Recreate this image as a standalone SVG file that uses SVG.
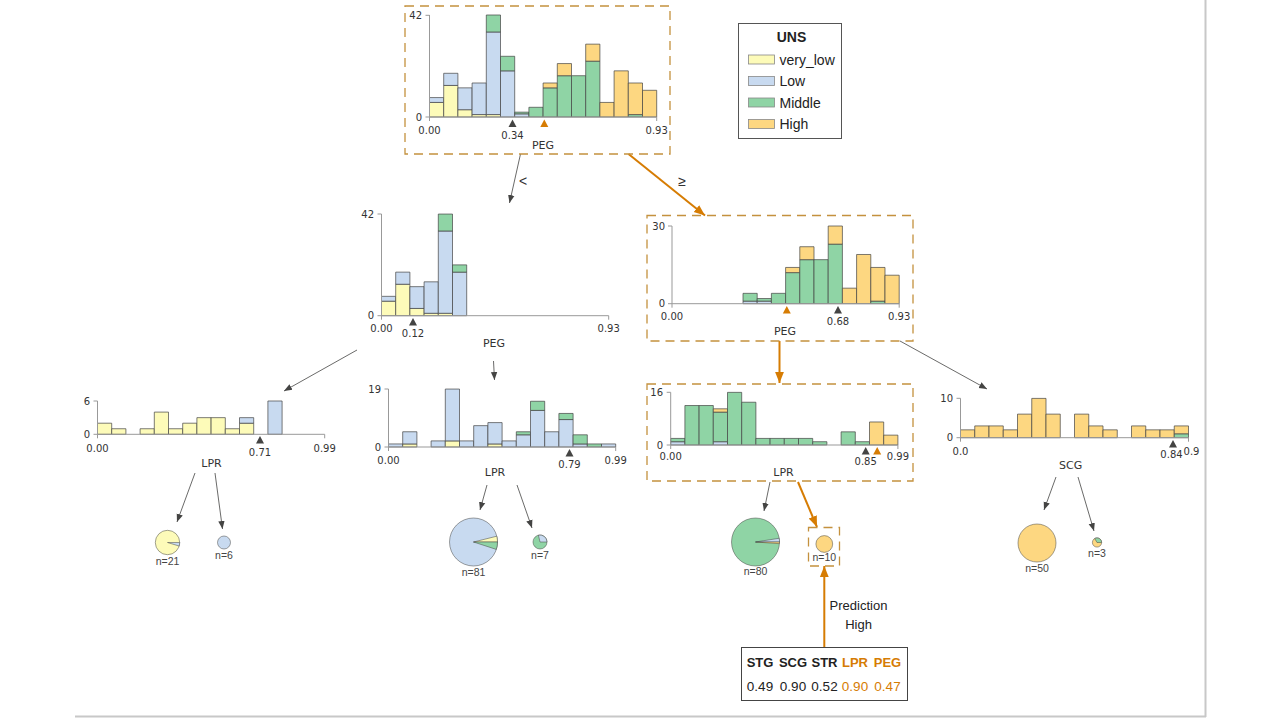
<svg xmlns="http://www.w3.org/2000/svg" width="1280" height="720" viewBox="0 0 1280 720">
<defs>
<style>
.Y{fill:#fdfbb9}.B{fill:#c8daf0}.G{fill:#8fd4a5}.O{fill:#fdd781}
.h rect{stroke:#444443;stroke-width:0.7;vector-effect:non-scaling-stroke}
.ax{stroke:#999;stroke-width:1;fill:none}
.tk{font-family:"DejaVu Sans",sans-serif;font-size:10px;fill:#333;text-anchor:middle}
.yl{font-family:"DejaVu Sans",sans-serif;font-size:10px;fill:#333;text-anchor:end}
.al{font-family:"DejaVu Sans",sans-serif;font-size:11px;fill:#333;text-anchor:middle}
.tb{fill:#444443}.to{fill:#D67C03}
.box{fill:none;stroke:#c4913e;stroke-width:1.3;stroke-dasharray:9 6}
.pl{font-family:"Liberation Sans",Arial,sans-serif;font-size:10.5px;fill:#444443;text-anchor:middle}
.pie{stroke:#444443;stroke-width:0.5}
.cg{stroke:#444443;stroke-width:0.8;fill:none}
.co{stroke:#D67C03;stroke-width:2;fill:none}
.lg{font-family:"Liberation Sans",Arial,sans-serif;font-size:14px;fill:#222}
.hd{font-family:"Liberation Sans",Arial,sans-serif;font-size:13px;font-weight:bold;text-anchor:middle}
.vl{font-family:"Liberation Sans",Arial,sans-serif;font-size:13.5px;text-anchor:middle}
.el{font-family:"Liberation Sans",Arial,sans-serif;font-size:14px;fill:#333;text-anchor:middle}
</style>
<marker id="ag" viewBox="0 0 10 10" refX="10" refY="5" markerWidth="8" markerHeight="8" markerUnits="userSpaceOnUse" orient="auto"><path d="M0,1 L10,5 L0,9 z" fill="#444443"/></marker>
<marker id="ao" viewBox="0 0 10 10" refX="10" refY="5" markerWidth="11" markerHeight="11" markerUnits="userSpaceOnUse" orient="auto"><path d="M0,1 L10,5 L0,9 z" fill="#D67C03"/></marker>
</defs>
<rect width="1280" height="720" fill="#fff"/>
<line x1="1205.5" y1="0" x2="1205.5" y2="717" stroke="#c8c8c8" stroke-width="2"/>
<line x1="75" y1="716.5" x2="1206" y2="716.5" stroke="#c8c8c8" stroke-width="2"/>

<g id="connectors">
<line class="cg" x1="520.5" y1="154" x2="509.5" y2="203" marker-end="url(#ag)"/>
<text class="el" x="523" y="186">&lt;</text>
<line class="co" x1="628.5" y1="154" x2="705" y2="215.5" marker-end="url(#ao)"/>
<text class="el" x="682" y="186">≥</text>
<line class="cg" x1="357" y1="350" x2="284" y2="391" marker-end="url(#ag)"/>
<line class="cg" x1="493.5" y1="361" x2="494.5" y2="380" marker-end="url(#ag)"/>
<line class="co" x1="779.5" y1="341" x2="779.5" y2="383" marker-end="url(#ao)"/>
<line class="cg" x1="900" y1="341" x2="987" y2="389" marker-end="url(#ag)"/>
<line class="cg" x1="195" y1="473" x2="177" y2="522" marker-end="url(#ag)"/>
<line class="cg" x1="215" y1="473" x2="222.5" y2="529" marker-end="url(#ag)"/>
<line class="cg" x1="487" y1="485" x2="480" y2="510" marker-end="url(#ag)"/>
<line class="cg" x1="517" y1="485" x2="532" y2="528" marker-end="url(#ag)"/>
<line class="cg" x1="770" y1="482" x2="764" y2="511" marker-end="url(#ag)"/>
<line class="co" x1="798" y1="482" x2="817" y2="527" marker-end="url(#ao)"/>
<line class="cg" x1="1056" y1="477" x2="1044" y2="510" marker-end="url(#ag)"/>
<line class="cg" x1="1078" y1="477" x2="1094" y2="531" marker-end="url(#ag)"/>
<line class="co" x1="824.3" y1="647" x2="824.3" y2="566" marker-end="url(#ao)"/>
</g>

<g id="node-root">
<rect class="box" x="405" y="6" width="265" height="148"/>
<g class="h" transform="translate(429.5,117) scale(14.2,-2.4286)">
<rect class="Y" x="0" y="0" width="1" height="6"/><rect class="B" x="0" y="6" width="1" height="2"/>
<rect class="Y" x="1" y="0" width="1" height="13"/><rect class="B" x="1" y="13" width="1" height="5"/>
<rect class="Y" x="2" y="0" width="1" height="3"/><rect class="B" x="2" y="3" width="1" height="9"/>
<rect class="Y" x="3" y="0" width="1" height="1"/><rect class="B" x="3" y="1" width="1" height="13"/>
<rect class="Y" x="4" y="0" width="1" height="1"/><rect class="B" x="4" y="1" width="1" height="34"/><rect class="G" x="4" y="35" width="1" height="7"/>
<rect class="B" x="5" y="0" width="1" height="19"/><rect class="G" x="5" y="19" width="1" height="6"/>
<rect class="B" x="6" y="0" width="1" height="1.3"/><rect class="G" x="6" y="1.3" width="1" height="0.7"/>
<rect class="G" x="7" y="0" width="1" height="4"/>
<rect class="G" x="8" y="0" width="1" height="12"/><rect class="O" x="8" y="12" width="1" height="2"/>
<rect class="G" x="9" y="0" width="1" height="17"/><rect class="O" x="9" y="17" width="1" height="5"/>
<rect class="G" x="10" y="0" width="1" height="17"/>
<rect class="G" x="11" y="0" width="1" height="23"/><rect class="O" x="11" y="23" width="1" height="7"/>
<rect class="O" x="12" y="0" width="1" height="6"/>
<rect class="O" x="13" y="0" width="1" height="19"/>
<rect class="G" x="14" y="0" width="1" height="1"/><rect class="O" x="14" y="1" width="1" height="13"/>
<rect class="O" x="15" y="0" width="1" height="11"/>
</g>
<path class="ax" d="M429.5,15 V117 M425.5,15.3 H429.5 M425.5,117 H429.5 M429.5,117 H656.7 M429.5,117 V121 M656.7,117 V121"/>
<text class="yl" x="422" y="19">42</text><text class="yl" x="422" y="120.5">0</text>
<text class="tk" x="429.5" y="133.5">0.00</text><text class="tk" x="656.7" y="133.5">0.93</text>
<path class="tb" d="M512.5,119.5 L516.5,127 L508.5,127 Z"/><path class="to" d="M544.3,119.5 L548.3,127 L540.3,127 Z"/>
<text class="tk" x="512.5" y="139">0.34</text>
<text class="al" x="543" y="149">PEG</text>
</g>

<g id="legend">
<rect x="738.5" y="23.5" width="103" height="115" fill="#fff" stroke="#555" stroke-width="1"/>
<text x="791.5" y="42" font-family="Liberation Sans, Arial, sans-serif" font-size="14" font-weight="bold" fill="#222" text-anchor="middle">UNS</text>
<rect class="Y" x="748.5" y="55" width="26" height="9" stroke="#888" stroke-width="0.8"/><text class="lg" x="779.5" y="64.5">very_low</text>
<rect class="B" x="748.5" y="76.5" width="26" height="9" stroke="#888" stroke-width="0.8"/><text class="lg" x="779.5" y="86">Low</text>
<rect class="G" x="748.5" y="98" width="26" height="9" stroke="#888" stroke-width="0.8"/><text class="lg" x="779.5" y="107.5">Middle</text>
<rect class="O" x="748.5" y="119.5" width="26" height="9" stroke="#888" stroke-width="0.8"/><text class="lg" x="779.5" y="129">High</text>
</g>

<g id="node-left">
<g class="h" transform="translate(381.5,315.7) scale(14.2,-2.42)">
<rect class="Y" x="0" y="0" width="1" height="6"/><rect class="B" x="0" y="6" width="1" height="2"/>
<rect class="Y" x="1" y="0" width="1" height="13"/><rect class="B" x="1" y="13" width="1" height="5"/>
<rect class="Y" x="2" y="0" width="1" height="3"/><rect class="B" x="2" y="3" width="1" height="9"/>
<rect class="Y" x="3" y="0" width="1" height="1"/><rect class="B" x="3" y="1" width="1" height="13"/>
<rect class="Y" x="4" y="0" width="1" height="1"/><rect class="B" x="4" y="1" width="1" height="34"/><rect class="G" x="4" y="35" width="1" height="7"/>
<rect class="B" x="5" y="0" width="1" height="18"/><rect class="G" x="5" y="18" width="1" height="3"/>
</g>
<path class="ax" d="M381.5,214 V315.7 M377.5,214 H381.5 M377.5,315.7 H381.5 M381.5,315.7 H608.7 M381.5,315.7 V319.7 M608.7,315.7 V319.7"/>
<text class="yl" x="374" y="217.5">42</text><text class="yl" x="374" y="319">0</text>
<text class="tk" x="381.5" y="332">0.00</text><text class="tk" x="608.7" y="332">0.93</text>
<path class="tb" d="M413,318 L417,325.5 L409,325.5 Z"/>
<text class="tk" x="413" y="337">0.12</text>
<text class="al" x="494" y="347">PEG</text>
</g>

<g id="node-right">
<rect class="box" x="647" y="215.5" width="266" height="125.5"/>
<g class="h" transform="translate(672,303.7) scale(14.2,-2.59)">
<rect class="B" x="5" y="0" width="1" height="1"/><rect class="G" x="5" y="1" width="1" height="3"/>
<rect class="B" x="6" y="0" width="1" height="1"/><rect class="G" x="6" y="1" width="1" height="1"/>
<rect class="G" x="7" y="0" width="1" height="4"/>
<rect class="G" x="8" y="0" width="1" height="12"/><rect class="O" x="8" y="12" width="1" height="2"/>
<rect class="G" x="9" y="0" width="1" height="17"/><rect class="O" x="9" y="17" width="1" height="5"/>
<rect class="G" x="10" y="0" width="1" height="17"/>
<rect class="G" x="11" y="0" width="1" height="23"/><rect class="O" x="11" y="23" width="1" height="7"/>
<rect class="O" x="12" y="0" width="1" height="6"/>
<rect class="O" x="13" y="0" width="1" height="19"/>
<rect class="G" x="14" y="0" width="1" height="1"/><rect class="O" x="14" y="1" width="1" height="13"/>
<rect class="O" x="15" y="0" width="1" height="11"/>
</g>
<path class="ax" d="M672,226 V303.7 M668,226 H672 M668,303.7 H672 M672,303.7 H899.2 M672,303.7 V307.7 M899.2,303.7 V307.7"/>
<text class="yl" x="665" y="229.5">30</text><text class="yl" x="665" y="307">0</text>
<text class="tk" x="672" y="320">0.00</text><text class="tk" x="899.2" y="320">0.93</text>
<path class="tb" d="M838,306 L842,313.5 L834,313.5 Z"/><path class="to" d="M786.8,306 L790.8,313.5 L782.8,313.5 Z"/>
<text class="tk" x="838" y="324.5">0.68</text>
<text class="al" x="785" y="335">PEG</text>
</g>

<g id="node-ll">
<g class="h" transform="translate(97.5,434.3) scale(14.2,-5.55)">
<rect class="Y" x="0" y="0" width="1" height="2"/>
<rect class="Y" x="1" y="0" width="1" height="1"/>
<rect class="Y" x="3" y="0" width="1" height="1"/>
<rect class="Y" x="4" y="0" width="1" height="4"/>
<rect class="Y" x="5" y="0" width="1" height="1"/>
<rect class="Y" x="6" y="0" width="1" height="2"/>
<rect class="Y" x="7" y="0" width="1" height="3"/>
<rect class="Y" x="8" y="0" width="1" height="3"/>
<rect class="Y" x="9" y="0" width="1" height="1"/>
<rect class="Y" x="10" y="0" width="1" height="2"/><rect class="B" x="10" y="2" width="1" height="1"/>
<rect class="B" x="12" y="0" width="1" height="6"/>
</g>
<path class="ax" d="M97.5,401 V434.3 M93.5,401 H97.5 M93.5,434.3 H97.5 M97.5,434.3 H324.7 M97.5,434.3 V438.3 M324.7,434.3 V438.3"/>
<text class="yl" x="90" y="404.5">6</text><text class="yl" x="90" y="437.8">0</text>
<text class="tk" x="97.5" y="452">0.00</text><text class="tk" x="324.7" y="452">0.99</text>
<path class="tb" d="M260,436 L264,443.5 L256,443.5 Z"/>
<text class="tk" x="260" y="455.5">0.71</text>
<text class="al" x="211.5" y="467">LPR</text>
</g>

<g id="node-lr">
<g class="h" transform="translate(388.5,447) scale(14.2,-3.05)">
<rect class="B" x="0" y="0" width="1" height="1"/>
<rect class="Y" x="1" y="0" width="1" height="1"/><rect class="B" x="1" y="1" width="1" height="4"/>
<rect class="B" x="3" y="0" width="1" height="2"/>
<rect class="Y" x="4" y="0" width="1" height="2"/><rect class="B" x="4" y="2" width="1" height="17"/>
<rect class="B" x="5" y="0" width="1" height="2"/>
<rect class="B" x="6" y="0" width="1" height="7"/>
<rect class="Y" x="7" y="0" width="1" height="1"/><rect class="B" x="7" y="1" width="1" height="7"/>
<rect class="B" x="8" y="0" width="1" height="2"/>
<rect class="B" x="9" y="0" width="1" height="4"/><rect class="G" x="9" y="4" width="1" height="1"/>
<rect class="B" x="10" y="0" width="1" height="12"/><rect class="G" x="10" y="12" width="1" height="3"/>
<rect class="B" x="11" y="0" width="1" height="5"/>
<rect class="B" x="12" y="0" width="1" height="9"/><rect class="G" x="12" y="9" width="1" height="2"/>
<rect class="B" x="13" y="0" width="1" height="1"/><rect class="G" x="13" y="1" width="1" height="3"/>
<rect class="G" x="14" y="0" width="1" height="1"/>
<rect class="B" x="15" y="0" width="1" height="1"/>
</g>
<path class="ax" d="M388.5,389 V447 M384.5,389 H388.5 M384.5,447 H388.5 M388.5,447 H615.7 M388.5,447 V451 M615.7,447 V451"/>
<text class="yl" x="381" y="392.5">19</text><text class="yl" x="381" y="450.5">0</text>
<text class="tk" x="388.5" y="463.5">0.00</text><text class="tk" x="615.7" y="463.5">0.99</text>
<path class="tb" d="M569.5,449 L573.5,456.5 L565.5,456.5 Z"/>
<text class="tk" x="569.5" y="467.5">0.79</text>
<text class="al" x="495" y="476">LPR</text>
</g>

<g id="node-rl">
<rect class="box" x="647" y="384" width="266" height="97"/>
<g class="h" transform="translate(670.7,445) scale(14.2,-3.29)">
<rect class="B" x="0" y="0" width="1" height="1"/><rect class="G" x="0" y="1" width="1" height="1"/>
<rect class="G" x="1" y="0" width="1" height="12"/>
<rect class="G" x="2" y="0" width="1" height="12"/>
<rect class="B" x="3" y="0" width="1" height="1"/><rect class="G" x="3" y="1" width="1" height="9"/><rect class="O" x="3" y="10" width="1" height="1"/>
<rect class="G" x="4" y="0" width="1" height="16"/>
<rect class="G" x="5" y="0" width="1" height="13"/>
<rect class="G" x="6" y="0" width="1" height="2"/>
<rect class="G" x="7" y="0" width="1" height="2"/>
<rect class="G" x="8" y="0" width="1" height="2"/>
<rect class="G" x="9" y="0" width="1" height="2"/>
<rect class="G" x="10" y="0" width="1" height="1"/>
<rect class="G" x="12" y="0" width="1" height="4"/>
<rect class="G" x="13" y="0" width="1" height="1"/>
<rect class="O" x="14" y="0" width="1" height="7"/>
<rect class="O" x="15" y="0" width="1" height="3"/>
</g>
<path class="ax" d="M670.7,392.3 V445 M666.7,392.3 H670.7 M666.7,445 H670.7 M670.7,445 H897.9 M670.7,445 V449 M897.9,445 V449"/>
<text class="yl" x="663" y="396">16</text><text class="yl" x="663" y="448.5">0</text>
<text class="tk" x="670.7" y="460">0.00</text><text class="tk" x="897.9" y="460">0.99</text>
<path class="tb" d="M865.7,447 L869.7,454.5 L861.7,454.5 Z"/><path class="to" d="M877.2,447 L881.2,454.5 L873.2,454.5 Z"/>
<text class="tk" x="865.7" y="465">0.85</text>
<text class="al" x="783.5" y="476">LPR</text>
</g>

<g id="node-rr">
<g class="h" transform="translate(960.5,437.7) scale(14.25,-3.93)">
<rect class="O" x="0" y="0" width="1" height="2"/>
<rect class="O" x="1" y="0" width="1" height="3"/>
<rect class="O" x="2" y="0" width="1" height="3"/>
<rect class="O" x="3" y="0" width="1" height="2"/>
<rect class="O" x="4" y="0" width="1" height="6"/>
<rect class="O" x="5" y="0" width="1" height="10"/>
<rect class="O" x="6" y="0" width="1" height="6"/>
<rect class="O" x="8" y="0" width="1" height="6"/>
<rect class="O" x="9" y="0" width="1" height="3"/>
<rect class="O" x="10" y="0" width="1" height="2"/>
<rect class="O" x="12" y="0" width="1" height="3"/>
<rect class="O" x="13" y="0" width="1" height="2"/>
<rect class="O" x="14" y="0" width="1" height="2"/>
<rect class="G" x="15" y="0" width="1" height="1"/><rect class="O" x="15" y="1" width="1" height="2"/>
</g>
<path class="ax" d="M960.5,398.3 V437.7 M956.5,398.3 H960.5 M956.5,437.7 H960.5 M960.5,437.7 H1188.5 M960.5,437.7 V441.7 M1188.5,437.7 V441.7"/>
<text class="yl" x="953" y="402">10</text><text class="yl" x="953" y="441">0</text>
<text class="tk" x="960.5" y="454.5">0.0</text><text class="tk" x="1191.5" y="454.5">0.9</text>
<path class="tb" d="M1173,440 L1177,447.5 L1169,447.5 Z"/>
<text class="tk" x="1171.5" y="458">0.84</text>
<text class="al" x="1070.7" y="469">SCG</text>
</g>

<g id="leaf-21">
<circle class="pie Y" cx="167.5" cy="542.5" r="12.2"/>
<path class="pie B" d="M167.5,542.5 L179.7,542.5 A12.2,12.2 0 0,1 179.17,546.07 Z"/>
<text class="pl" x="167.5" y="564.5">n=21</text>
</g>
<g id="leaf-6">
<circle class="pie B" cx="224" cy="542.5" r="6.5"/>
<text class="pl" x="224" y="558.5">n=6</text>
</g>
<g id="leaf-81">
<circle class="pie B" cx="473.5" cy="542" r="24"/>
<path class="pie Y" d="M473.5,542 L497.5,542 A24,24 0 0,0 496.79,536.19 Z"/>
<path class="pie G" d="M473.5,542 L497.5,542 A24,24 0 0,1 496.33,549.42 Z"/>
<text class="pl" x="473.5" y="575.5">n=81</text>
</g>
<g id="leaf-7">
<circle class="pie G" cx="540" cy="542" r="7"/>
<path class="pie B" d="M540,542 L547,542 A7,7 0 0,0 538.43,535.18 Z"/>
<text class="pl" x="540" y="558.5">n=7</text>
</g>
<g id="leaf-80">
<circle class="pie G" cx="755.5" cy="542" r="24"/>
<path class="pie B" d="M755.5,542 L779.5,542 A24,24 0 0,0 779.2,538.25 Z"/>
<path class="pie O" d="M755.5,542 L779.5,542 A24,24 0 0,1 779.44,543.67 Z"/>
<text class="pl" x="755.5" y="575">n=80</text>
</g>
<g id="leaf-10">
<rect class="box" x="808.5" y="527.5" width="31" height="38.5"/>
<circle class="pie O" cx="824.3" cy="544" r="8.4"/>
<text class="pl" x="824.3" y="561">n=10</text>
</g>
<g id="leaf-50">
<circle class="pie O" cx="1037" cy="543" r="19"/>
<text class="pl" x="1037" y="572">n=50</text>
</g>
<g id="leaf-3">
<circle class="pie O" cx="1097" cy="542.5" r="4.6"/>
<path class="pie G" d="M1097,542.5 L1101.6,542.5 A4.6,4.6 0 0,0 1094.7,538.52 Z"/>
<text class="pl" x="1097" y="556.5">n=3</text>
</g>

<g id="prediction">
<text x="858.5" y="609.5" font-family="Liberation Sans, Arial, sans-serif" font-size="13" fill="#222" text-anchor="middle">Prediction</text>
<text x="858.5" y="629" font-family="Liberation Sans, Arial, sans-serif" font-size="13" fill="#222" text-anchor="middle">High</text>
</g>

<g id="instance">
<rect x="741.5" y="647.5" width="166" height="53" fill="#fff" stroke="#444" stroke-width="1"/>
<text class="hd" x="760" y="667" fill="#222">STG</text>
<text class="hd" x="793" y="667" fill="#222">SCG</text>
<text class="hd" x="824.5" y="667" fill="#222">STR</text>
<text class="hd" x="855" y="667" fill="#D67C03">LPR</text>
<text class="hd" x="887.5" y="667" fill="#D67C03">PEG</text>
<text class="vl" x="760" y="691" fill="#222">0.49</text>
<text class="vl" x="793" y="691" fill="#222">0.90</text>
<text class="vl" x="824.5" y="691" fill="#222">0.52</text>
<text class="vl" x="855" y="691" fill="#D67C03">0.90</text>
<text class="vl" x="887.5" y="691" fill="#D67C03">0.47</text>
</g>
</svg>
